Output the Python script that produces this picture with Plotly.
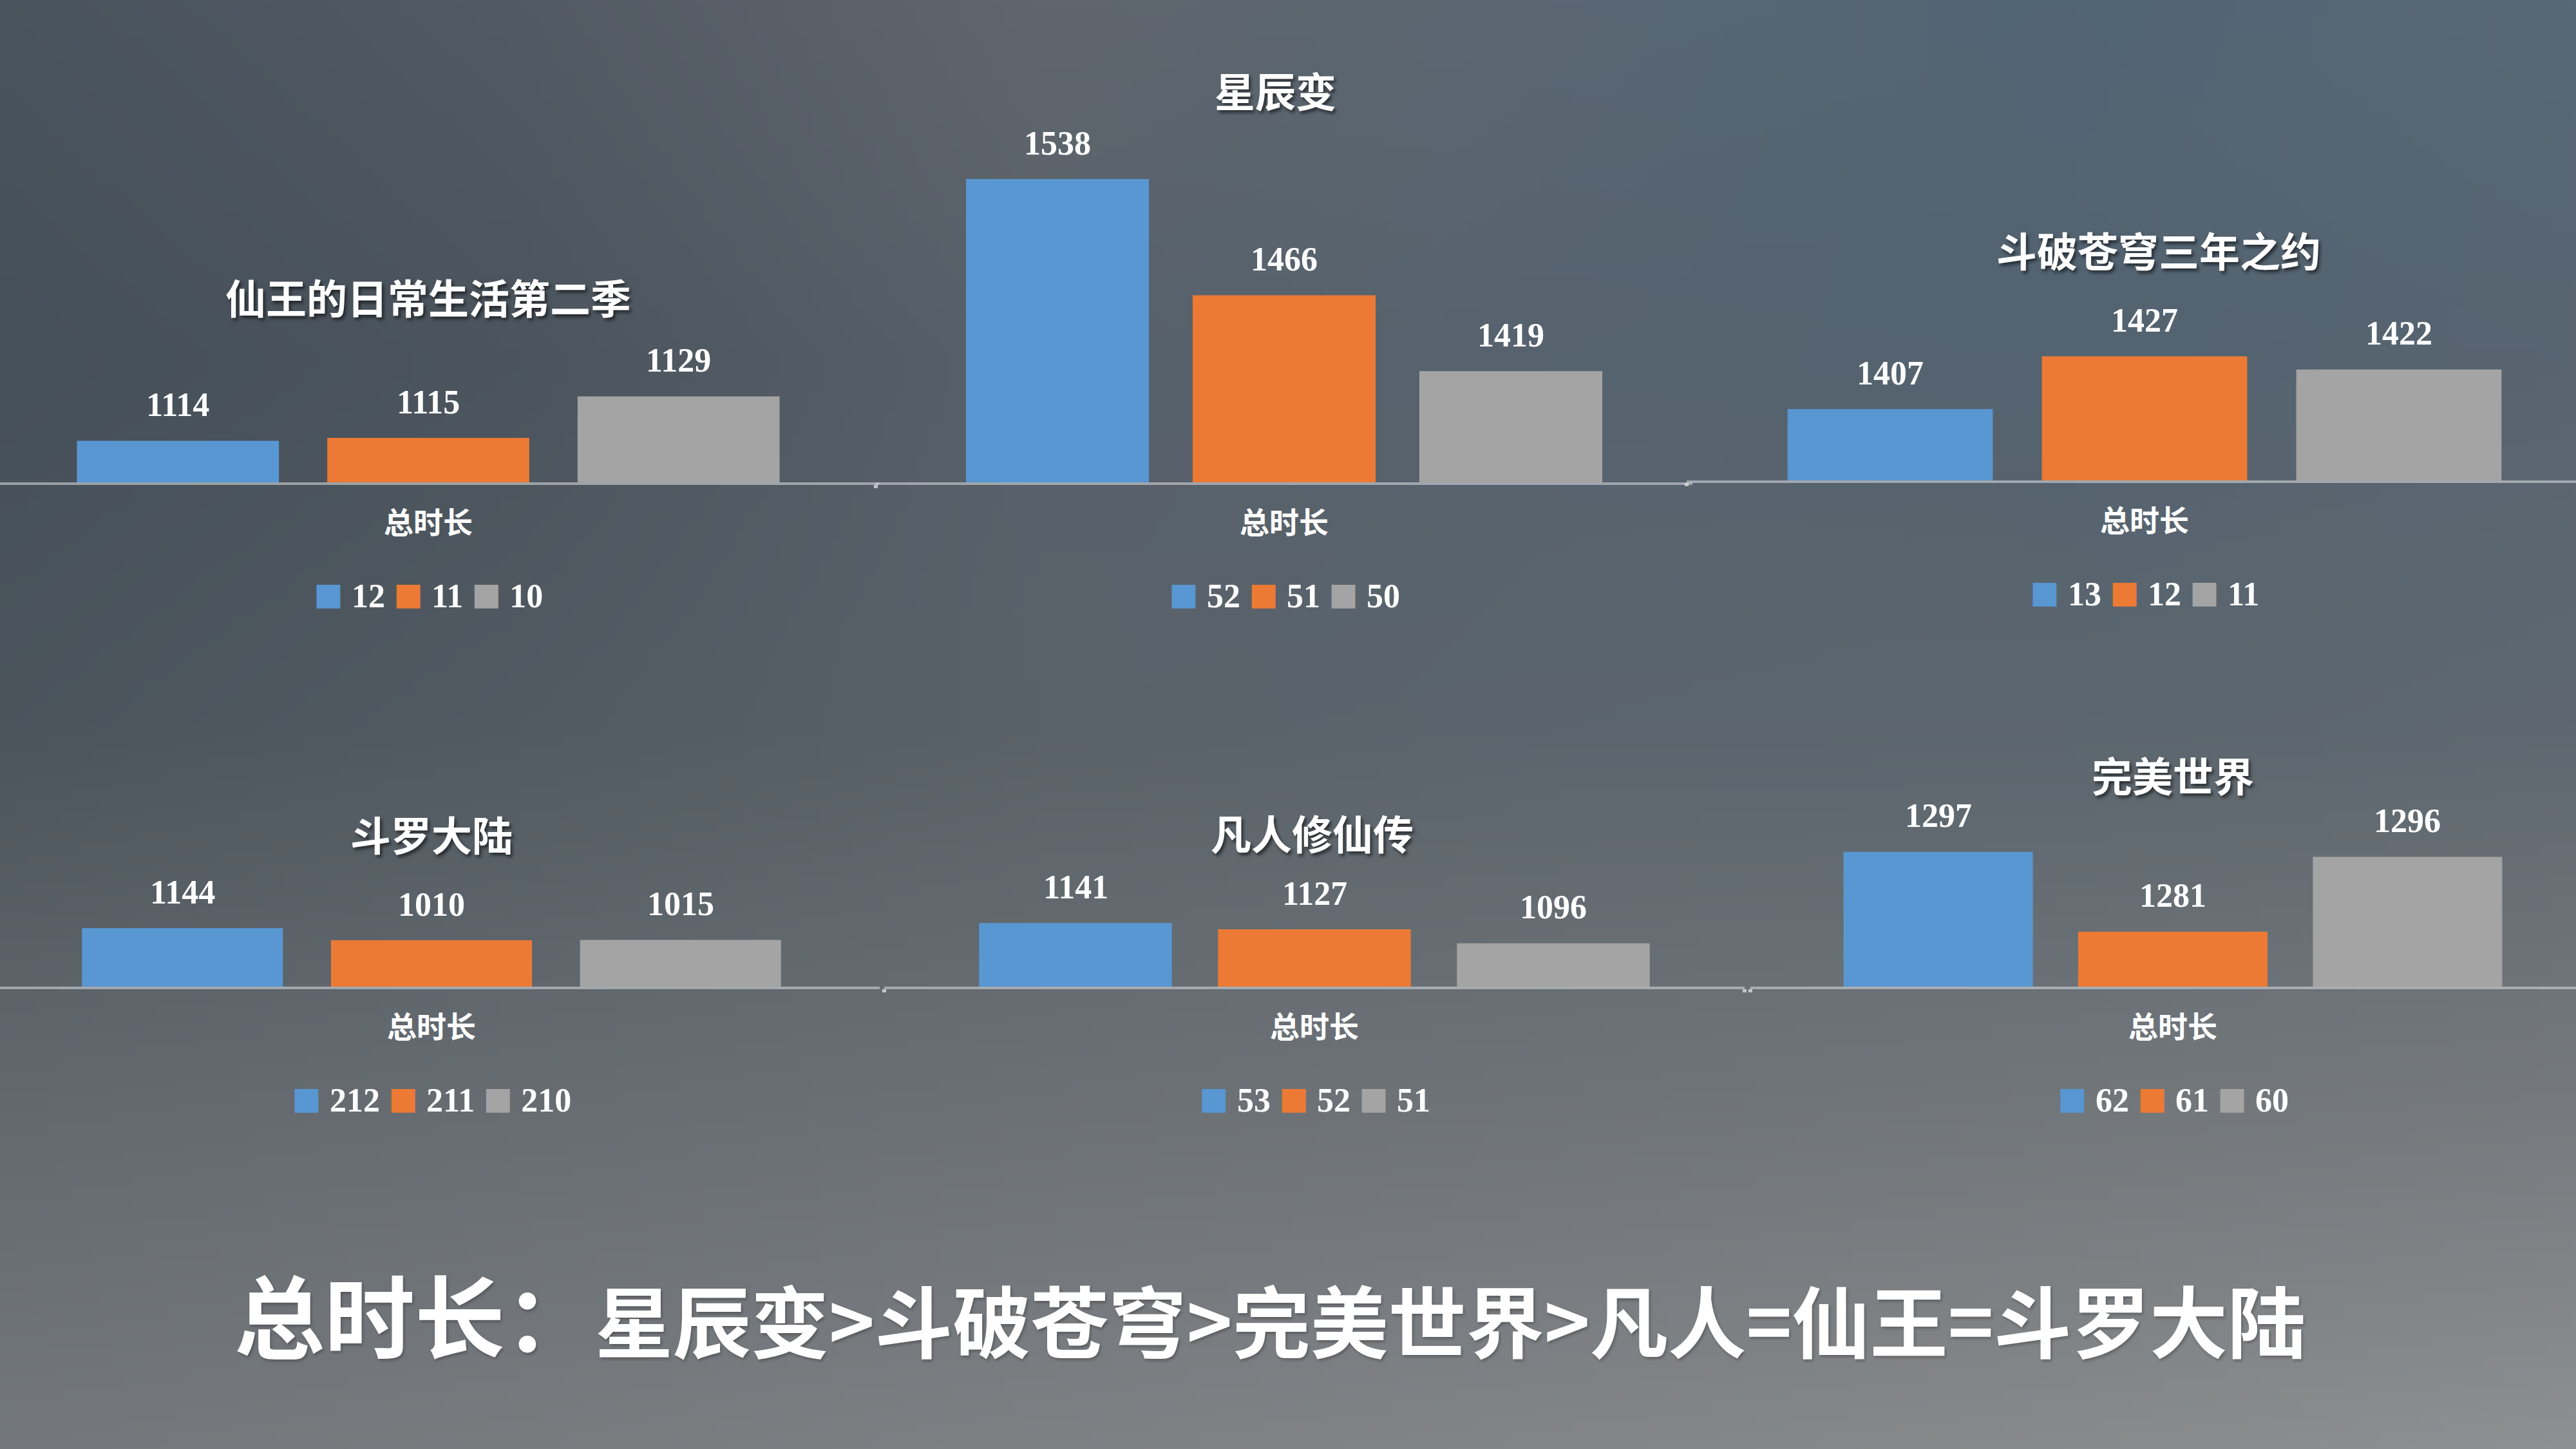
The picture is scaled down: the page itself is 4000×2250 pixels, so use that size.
import base64
import struct
import zlib

import numpy as np
import plotly.graph_objects as go

# ------------------------------------------------------------------ data
category = ["总时长"]

titles = ["仙王的日常生活第二季", "星辰变", "斗破苍穹三年之约",
          "斗罗大陆", "凡人修仙传", "完美世界"]

xianwang_eps = ["12", "11", "10"]
xianwang_total = [1114, 1115, 1129]

xingchen_eps = ["52", "51", "50"]
xingchen_total = [1538, 1466, 1419]

doupo_eps = ["13", "12", "11"]
doupo_total = [1407, 1427, 1422]

douluo_eps = ["212", "211", "210"]
douluo_total = [1144, 1010, 1015]

fanren_eps = ["53", "52", "51"]
fanren_total = [1141, 1127, 1096]

wanmei_eps = ["62", "61", "60"]
wanmei_total = [1297, 1281, 1296]

summary_label = "总时长："
summary_text = "星辰变>斗破苍穹>完美世界>凡人=仙王=斗罗大陆"

series_names = [xianwang_eps, xingchen_eps, doupo_eps,
                douluo_eps, fanren_eps, wanmei_eps]
series_values = [xianwang_total, xingchen_total, doupo_total,
                 douluo_total, fanren_total, wanmei_total]

# ------------------------------------------------------------------ layout / style
W, H = 4000, 2250
BAR_COLORS = ["#5897d2", "#ec7a35", "#a4a4a4"]
GAP = 0.167          # bargap
GROUP_GAP = 0.193    # bargroupgap

# per panel: group centre (px), bar slot width (px), baseline (px),
# plot-area top (px), y-axis minimum, px per value unit, title centre (px)
panels = [
    dict(cx=665, slot=388.7, base=749, top=150, ymin=1100, ppu=4.6, title=(665, 460)),
    dict(cx=1994, slot=352.0, base=749, top=150, ymin=1350, ppu=2.505, title=(1980, 138)),
    dict(cx=3330, slot=395.0, base=746, top=150, ymin=1380, ppu=4.1, title=(3352, 386)),
    dict(cx=670, slot=386.7, base=1532, top=1100, ymin=500, ppu=0.141, title=(670, 1293)),
    dict(cx=2041, slot=371.0, base=1532, top=1100, ymin=1000, ppu=0.70, title=(2038, 1291)),
    dict(cx=3374, slot=364.4, base=1532, top=1100, ymin=1270, ppu=7.75, title=(3374, 1201)),
]

LABEL_FONT = dict(family="Liberation Serif", size=52, color="white", weight="bold")
TITLE_FONT = dict(family="Noto Sans CJK SC", size=63, color="white", weight="bold",
                  shadow="3px 4px 5px rgba(0,0,0,0.55)")
AXIS_FONT = dict(family="Noto Sans CJK SC", size=46, color="white", weight="bold")


def background_uri():
    # coarse colour field of the backdrop, rows top->bottom, cols left->right
    grid = np.array([
        [(74, 84, 94), (82, 90, 99), (96, 102, 109), (90, 103, 115), (82, 101, 117), (88, 104, 118)],
        [(70, 80, 89), (76, 85, 93), (88, 97, 106), (86, 99, 111), (84, 99, 112), (88, 101, 113)],
        [(76, 85, 92), (82, 91, 98), (90, 98, 105), (92, 101, 109), (92, 102, 110), (95, 104, 112)],
        [(98, 104, 110), (102, 108, 114), (107, 112, 117), (110, 115, 120), (113, 118, 122), (117, 121, 125)],
        [(116, 120, 124), (121, 124, 127), (126, 129, 132), (131, 133, 136), (136, 138, 140), (142, 144, 146)],
    ], dtype=float)
    gh, gw = grid.shape[:2]
    ow, oh = 240, 135
    ys = np.linspace(0, gh - 1, oh)
    xs = np.linspace(0, gw - 1, ow)
    y0 = np.floor(ys).astype(int).clip(0, gh - 2)
    x0 = np.floor(xs).astype(int).clip(0, gw - 2)
    fy = (ys - y0)[:, None, None]
    fx = (xs - x0)[None, :, None]
    a = grid[y0][:, x0]
    b = grid[y0][:, x0 + 1]
    c = grid[y0 + 1][:, x0]
    d = grid[y0 + 1][:, x0 + 1]
    img = (a * (1 - fx) * (1 - fy) + b * fx * (1 - fy) + c * (1 - fx) * fy + d * fx * fy)
    img = img.clip(0, 255).astype(np.uint8)
    raw = b"".join(b"\x00" + img[r].tobytes() for r in range(oh))

    def chunk(tag, data):
        return (struct.pack(">I", len(data)) + tag + data +
                struct.pack(">I", zlib.crc32(tag + data) & 0xFFFFFFFF))

    png = (b"\x89PNG\r\n\x1a\n" +
           chunk(b"IHDR", struct.pack(">IIBBBBB", ow, oh, 8, 2, 0, 0, 0)) +
           chunk(b"IDAT", zlib.compress(raw, 9)) + chunk(b"IEND", b""))
    return "data:image/png;base64," + base64.b64encode(png).decode()


fig = go.Figure()
layout = dict(
    width=W, height=H,
    margin=dict(l=0, r=0, t=0, b=0),
    paper_bgcolor="#5f676f",
    plot_bgcolor="rgba(0,0,0,0)",
    barmode="group", bargap=GAP, bargroupgap=GROUP_GAP,
    showlegend=False,
    font=dict(family="Noto Sans CJK SC", color="white"),
    images=[dict(source=background_uri(), xref="paper", yref="paper", x=0, y=1,
                 sizex=1, sizey=1, sizing="stretch", xanchor="left", yanchor="top",
                 layer="below")],
)
annotations = []

for i, (p, names, vals, title) in enumerate(zip(panels, series_names, series_values, titles)):
    k = i + 1
    xa, ya = f"x{k}", f"y{k}"
    for j in range(3):
        fig.add_trace(go.Bar(
            x=category, y=[vals[j]], name=names[j],
            marker=dict(color=BAR_COLORS[j], line=dict(width=0)),
            xaxis=xa, yaxis=ya, hoverinfo="name+y",
        ))
        # value labels, placed on the bar tops through the axes
        annotations.append(dict(
            x=(j - 1) * (1 - GAP) / 3, y=vals[j], xref=xa, yref=ya,
            text=str(vals[j]), showarrow=False, yanchor="middle", yshift=56,
            font=LABEL_FONT,
        ))

    span = 3 * p["slot"] / (1 - GAP)          # px per category unit
    d0 = max(0.0, p["cx"] - span / 2)
    d1 = min(float(W), p["cx"] + span / 2)
    layout[f"xaxis{k}" if k > 1 else "xaxis"] = dict(
        type="category", domain=[d0 / W, d1 / W],
        range=[(d0 - p["cx"]) / span, (d1 - p["cx"]) / span],
        anchor=ya, showgrid=False, zeroline=False,
        showline=True, linecolor="rgba(205,210,215,0.62)", linewidth=4,
        ticks="outside", tickson="boundaries", ticklen=5, tickwidth=6,
        tickcolor="rgba(215,220,225,0.8)", tickfont=AXIS_FONT,
        ticklabelstandoff=20, fixedrange=True,
    )
    layout[f"yaxis{k}" if k > 1 else "yaxis"] = dict(
        domain=[1 - p["base"] / H, 1 - p["top"] / H],
        range=[p["ymin"], p["ymin"] + (p["base"] - p["top"]) / p["ppu"]],
        anchor=xa, visible=False, showgrid=False, zeroline=False, fixedrange=True,
    )

    # chart title
    annotations.append(dict(
        x=p["title"][0] / W, y=1 - p["title"][1] / H, xref="paper", yref="paper",
        text=title, showarrow=False, xanchor="center", yanchor="middle",
        font=TITLE_FONT,
    ))

    # legend row: coloured square + series name
    parts = []
    for j in range(3):
        parts.append(
            f'<span style="color:{BAR_COLORS[j]};font-size:46px;'
            f'font-family:Noto Sans CJK SC">■</span> {names[j]}'
        )
    annotations.append(dict(
        x=p["cx"] / W, y=1 - (p["base"] + 174) / H, xref="paper", yref="paper",
        text=" ".join(parts), showarrow=False, xanchor="center", yanchor="middle",
        font=dict(family="Liberation Serif", size=52, color="white", weight="bold"),
    ))

# summary line at the bottom
annotations.append(dict(
    x=1972 / W, y=1 - 2038 / H, xref="paper", yref="paper",
    text=f'<span style="font-size:140px">{summary_label}</span>{summary_text}',
    showarrow=False, xanchor="center", yanchor="middle",
    font=dict(family="Noto Sans CJK SC", size=121, color="white", weight="bold",
              shadow="2px 3px 4px rgba(0,0,0,0.25)"),
))

layout["annotations"] = annotations
fig.update_layout(**layout)
fig.write_html("out.html",
               config={"displayModeBar": False},
               post_script="document.body.style.margin='0';"
                           "document.body.style.overflow='hidden';")
